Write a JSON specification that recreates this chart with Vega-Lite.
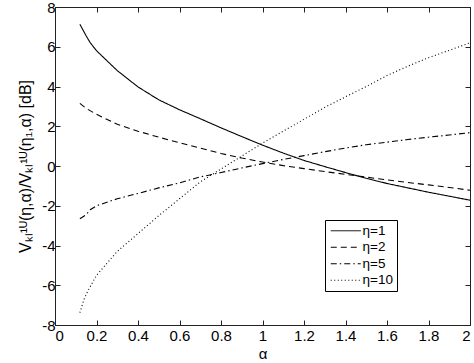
{
  "$schema": "https://vega.github.io/schema/vega-lite/v6.json",
  "width": 415,
  "height": 318,
  "autosize": "none",
  "padding": {"left": 55, "top": 7, "right": 4, "bottom": 38},
  "background": "white",
  "config": {
    "view": {"stroke": "#222", "strokeWidth": 1},
    "font": "Liberation Sans",
    "axis": {
      "domainColor": "#222",
      "tickColor": "#222",
      "tickSize": -5,
      "grid": false,
      "labelFont": "Liberation Sans",
      "labelFontSize": 15,
      "labelColor": "#000",
      "titleFont": "Liberation Sans",
      "titleFontSize": 15,
      "titleFontWeight": "normal",
      "titleColor": "#000"
    }
  },
  "data": {
    "values": [
      {"a": 0.12, "v": 7.13, "s": "η=1"},
      {"a": 0.15, "v": 6.55, "s": "η=1"},
      {"a": 0.17, "v": 6.2, "s": "η=1"},
      {"a": 0.2, "v": 5.8, "s": "η=1"},
      {"a": 0.3, "v": 4.8, "s": "η=1"},
      {"a": 0.4, "v": 3.98, "s": "η=1"},
      {"a": 0.5, "v": 3.33, "s": "η=1"},
      {"a": 0.6, "v": 2.83, "s": "η=1"},
      {"a": 0.7, "v": 2.38, "s": "η=1"},
      {"a": 0.8, "v": 1.92, "s": "η=1"},
      {"a": 0.9, "v": 1.48, "s": "η=1"},
      {"a": 1.0, "v": 1.05, "s": "η=1"},
      {"a": 1.1, "v": 0.65, "s": "η=1"},
      {"a": 1.2, "v": 0.28, "s": "η=1"},
      {"a": 1.3, "v": -0.03, "s": "η=1"},
      {"a": 1.4, "v": -0.33, "s": "η=1"},
      {"a": 1.5, "v": -0.62, "s": "η=1"},
      {"a": 1.6, "v": -0.88, "s": "η=1"},
      {"a": 1.7, "v": -1.1, "s": "η=1"},
      {"a": 1.8, "v": -1.32, "s": "η=1"},
      {"a": 1.9, "v": -1.52, "s": "η=1"},
      {"a": 2.0, "v": -1.72, "s": "η=1"},
      {"a": 0.12, "v": 3.15, "s": "η=2"},
      {"a": 0.15, "v": 2.9, "s": "η=2"},
      {"a": 0.2, "v": 2.6, "s": "η=2"},
      {"a": 0.3, "v": 2.1, "s": "η=2"},
      {"a": 0.4, "v": 1.75, "s": "η=2"},
      {"a": 0.5, "v": 1.45, "s": "η=2"},
      {"a": 0.6, "v": 1.17, "s": "η=2"},
      {"a": 0.7, "v": 0.9, "s": "η=2"},
      {"a": 0.8, "v": 0.63, "s": "η=2"},
      {"a": 0.9, "v": 0.4, "s": "η=2"},
      {"a": 1.0, "v": 0.2, "s": "η=2"},
      {"a": 1.1, "v": 0.02, "s": "η=2"},
      {"a": 1.2, "v": -0.13, "s": "η=2"},
      {"a": 1.3, "v": -0.28, "s": "η=2"},
      {"a": 1.4, "v": -0.42, "s": "η=2"},
      {"a": 1.5, "v": -0.56, "s": "η=2"},
      {"a": 1.6, "v": -0.7, "s": "η=2"},
      {"a": 1.7, "v": -0.83, "s": "η=2"},
      {"a": 1.8, "v": -0.95, "s": "η=2"},
      {"a": 1.9, "v": -1.08, "s": "η=2"},
      {"a": 2.0, "v": -1.22, "s": "η=2"},
      {"a": 0.12, "v": -2.65, "s": "η=5"},
      {"a": 0.15, "v": -2.45, "s": "η=5"},
      {"a": 0.17, "v": -2.2, "s": "η=5"},
      {"a": 0.2, "v": -2.0, "s": "η=5"},
      {"a": 0.3, "v": -1.65, "s": "η=5"},
      {"a": 0.4, "v": -1.38, "s": "η=5"},
      {"a": 0.5, "v": -1.1, "s": "η=5"},
      {"a": 0.6, "v": -0.85, "s": "η=5"},
      {"a": 0.7, "v": -0.55, "s": "η=5"},
      {"a": 0.8, "v": -0.33, "s": "η=5"},
      {"a": 0.9, "v": -0.1, "s": "η=5"},
      {"a": 1.0, "v": 0.12, "s": "η=5"},
      {"a": 1.1, "v": 0.33, "s": "η=5"},
      {"a": 1.2, "v": 0.52, "s": "η=5"},
      {"a": 1.3, "v": 0.72, "s": "η=5"},
      {"a": 1.4, "v": 0.9, "s": "η=5"},
      {"a": 1.5, "v": 1.07, "s": "η=5"},
      {"a": 1.6, "v": 1.2, "s": "η=5"},
      {"a": 1.7, "v": 1.33, "s": "η=5"},
      {"a": 1.8, "v": 1.45, "s": "η=5"},
      {"a": 1.9, "v": 1.56, "s": "η=5"},
      {"a": 2.0, "v": 1.68, "s": "η=5"},
      {"a": 0.12, "v": -7.38, "s": "η=10"},
      {"a": 0.14, "v": -6.7, "s": "η=10"},
      {"a": 0.16, "v": -6.25, "s": "η=10"},
      {"a": 0.2, "v": -5.5, "s": "η=10"},
      {"a": 0.3, "v": -4.3, "s": "η=10"},
      {"a": 0.4, "v": -3.4, "s": "η=10"},
      {"a": 0.5, "v": -2.5, "s": "η=10"},
      {"a": 0.6, "v": -1.65, "s": "η=10"},
      {"a": 0.7, "v": -0.8, "s": "η=10"},
      {"a": 0.8, "v": -0.15, "s": "η=10"},
      {"a": 0.9, "v": 0.5, "s": "η=10"},
      {"a": 1.0, "v": 1.15, "s": "η=10"},
      {"a": 1.1, "v": 1.75, "s": "η=10"},
      {"a": 1.2, "v": 2.35, "s": "η=10"},
      {"a": 1.3, "v": 2.95, "s": "η=10"},
      {"a": 1.4, "v": 3.48, "s": "η=10"},
      {"a": 1.5, "v": 4.0, "s": "η=10"},
      {"a": 1.6, "v": 4.55, "s": "η=10"},
      {"a": 1.7, "v": 5.02, "s": "η=10"},
      {"a": 1.8, "v": 5.45, "s": "η=10"},
      {"a": 1.9, "v": 5.82, "s": "η=10"},
      {"a": 2.0, "v": 6.2, "s": "η=10"}
    ]
  },
  "resolve": {"axis": {"x": "independent", "y": "independent"}},
  "layer": [
    {
      "mark": {"type": "line", "color": "#000", "strokeWidth": 1.1},
      "encoding": {
        "x": {
          "field": "a", "type": "quantitative",
          "scale": {"domain": [0, 2], "nice": false, "zero": false},
          "axis": {
            "title": "α", "values": [0, 0.2, 0.4, 0.6, 0.8, 1, 1.2, 1.4, 1.6, 1.8, 2],
            "labelExpr": "'' + datum.value", "labelPadding": 8, "titlePadding": 3
          }
        },
        "y": {
          "field": "v", "type": "quantitative",
          "scale": {"domain": [-8, 8], "nice": false, "zero": false},
          "axis": {
            "title": "Vₖₗ¹ᵁ(η,α)/Vₖₗ¹ᵁ(η₁,α) [dB]",
            "titleFontSize": 16,
            "values": [-8, -6, -4, -2, 0, 2, 4, 6, 8],
            "labelExpr": "'' + datum.value", "labelPadding": 5, "titlePadding": 8
          }
        },
        "strokeDash": {
          "field": "s", "type": "nominal",
          "scale": {
            "domain": ["η=1", "η=2", "η=5", "η=10"],
            "range": [[1, 0], [6, 4], [6, 3, 1.5, 3], [1, 2.5]]
          },
          "legend": {
            "title": null,
            "orient": "none",
            "legendX": 270,
            "legendY": 213,
            "direction": "vertical",
            "symbolType": "M-3,0L3,0",
            "symbolSize": 100,
            "symbolStrokeWidth": 1,
            "symbolStrokeColor": "#000",
            "symbolOffset": 10,
            "labelFontSize": 13.5,
            "labelFont": "Liberation Sans",
            "labelColor": "#000",
            "strokeColor": "#000",
            "fillColor": "white",
            "padding": 4,
            "rowPadding": 1.5,
            "labelOffset": 10
          }
        }
      }
    },
    {
      "mark": {"type": "point", "opacity": 0},
      "encoding": {
        "x": {
          "field": "a", "type": "quantitative",
          "axis": {"orient": "top", "labels": false, "title": null, "values": [0, 0.2, 0.4, 0.6, 0.8, 1, 1.2, 1.4, 1.6, 1.8, 2]}
        },
        "y": {
          "field": "v", "type": "quantitative",
          "axis": {"orient": "right", "labels": false, "title": null, "values": [-8, -6, -4, -2, 0, 2, 4, 6, 8]}
        }
      }
    }
  ]
}
